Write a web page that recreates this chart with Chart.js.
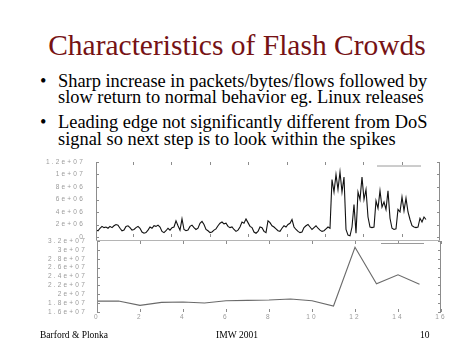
<!DOCTYPE html>
<html><head><meta charset="utf-8">
<script src="https://cdn.jsdelivr.net/npm/chart.js@4"></script>
<style>
html,body{margin:0;padding:0;background:#fff;width:474px;height:355px;overflow:hidden;font-family:"Liberation Serif","Times New Roman",serif;}
#title{position:absolute;left:0;width:474px;top:30px;text-align:center;font-size:29.5px;line-height:30px;color:#761214;white-space:nowrap;}
.ln{position:absolute;left:58px;font-size:18.4px;line-height:16.5px;color:#000;white-space:nowrap;}
.dot{position:absolute;left:40px;font-size:18.4px;line-height:16.5px;color:#000;}
.ft{position:absolute;top:330.5px;font-size:9.5px;line-height:9.5px;color:#000;white-space:nowrap;}
canvas{position:absolute;left:0;}
</style></head>
<body>
<div id="title">Characteristics of Flash Crowds</div>
<div class="dot" style="top:72.5px">•</div>
<div class="ln" style="top:72.5px">Sharp increase in packets/bytes/flows followed by</div>
<div class="ln" style="top:88.5px">slow return to normal behavior eg. Linux releases</div>
<div class="dot" style="top:113.5px">•</div>
<div class="ln" style="top:113.5px">Leading edge not significantly different from DoS</div>
<div class="ln" style="top:130.5px">signal so next step is to look within the spikes</div>
<div style="position:absolute;left:0;top:158px;width:474px;height:84px"><canvas id="c1" width="474" height="84"></canvas></div>
<div style="position:absolute;left:0;top:238px;width:474px;height:87px"><canvas id="c2" width="474" height="87"></canvas></div>
<div class="ft" style="left:40px">Barford &amp; Plonka</div>
<div class="ft" style="left:0;width:474px;text-align:center">IMW 2001</div>
<div class="ft" style="left:420px">10</div>
<script>
// ---- data (values in millions) ----
const topSeries = [
 1.12,1,1.4,1.7,1.5,1.6,1.4,1.7,1.5,1.8, 2,1.9,1.4,1,1.1,1.7,1.8,1.5,1.1,1.2,
 1.5,1.7,1.4,0.8,0.6,0.7,1.1,1.6,1.4,1.8, 1.7,1.9,1.6,0.9,0.7,1,1.4,1.1,1.5,1.6,
 2.6,1.8,1.1,2.9,
 1.2,1,1.1,1.7,1.9,1.5,1.2,1.4,2.2,2.5, 2,1.2,1,0.7,0.8,1.1,1.3,1.8,2.2,2.4,
 2.1,2.2,1.7,1.5,1.6,1.2,0.9,1.1,1.6,2.4, 2.2,2.9,2.3,1.7,1.5,0.8,0.6,0.9,1.6,1.5,
 0.9,0.7,
 2.6,2.3,1.8,1.6,1.3,1,0.9,1.4,1.8,1.6, 2,2.2,2.8,1.6,1.2,0.9,0.7,0.8,1.5,1.8,
 2,1.6,1.2,1.5,1.8,1.4,1.1,0.9,1,1.3, 1.6,1.4,9.2,7.2,10,7.6,10.4,7.2,9.6,1.2,
 0.3,0.2,1.6,
 5.2,0.6,7.2,6,9.6,6,7.6,3.2,1.6,1.5, 1.6,5.8,4.6,7.4,4.8,5.6,4.4,7.4,3,1.4,
 1.2,1.3,4.4,4,6.4,4.2,6.2,4,2.8,1.8, 1.6,1.5,1.6,3,2.4,3.2,2.8
];
const topXMax = 172;
const topYTicks = [0,2,4,6,8,10,12];
const topXTicks = [18.5,37.7,56.9,76.1,95.3,114.5,133.7,152.9];

const bottomX = [0,1,2,3,4,5,6,7,8,9,10,11,12,13,14,15];
const bottomSeries = [18.46,18.46,17.5,18.16,18.24,18.02,18.54,18.62,18.7,18.92,18.54,17.34,30.58,22.36,24.38,22.28];
const bottomYTicks = [16,18,20,22,24,26,28,30,32];
const bottomXTicks = [0,2,4,6,8,10,12,14,16];

function fmtE(v){
  if(v===0) return '0';
  const s = Number((v*1e6).toPrecision(6)).toExponential();
  const [m,e] = s.split('e');
  return m + 'e' + e[0] + e.slice(1).padStart(2,'0');
}

const frame = {
  id:'frame',
  beforeDraw(chart){ chart.ctx.letterSpacing = '2.2px'; },
  afterDatasetsDraw(chart, args, o){
    const {ctx, chartArea:a, scales:{x,y}} = chart;
    ctx.save();
    ctx.letterSpacing='0px';
    ctx.strokeStyle = '#8c8c8c'; ctx.lineWidth = 1;
    ctx.beginPath();
    ctx.moveTo(a.left+0.5,a.top); ctx.lineTo(a.left+0.5,a.bottom+(o.ext||0));
    ctx.moveTo(a.right-0.5,a.top); ctx.lineTo(a.right-0.5,a.bottom+(o.ext||0));
    const L = 3;
    y.ticks.forEach(t=>{const py=Math.round(y.getPixelForValue(t.value))+0.5;
      ctx.moveTo(a.left,py);ctx.lineTo(a.left+L,py);ctx.moveTo(a.right,py);ctx.lineTo(a.right-L,py);});
    x.ticks.forEach(t=>{const px=Math.round(x.getPixelForValue(t.value))+0.5;
      ctx.moveTo(px,a.top);ctx.lineTo(px,a.top+L);ctx.moveTo(px,a.bottom);ctx.lineTo(px,a.bottom-L);});
    ctx.stroke();
    if(o.bottomLine){ctx.beginPath();ctx.strokeStyle='#b4b4b4';ctx.moveTo(a.left,a.bottom+o.bottomLine+0.5);ctx.lineTo(a.right,a.bottom+o.bottomLine+0.5);ctx.stroke();}
    ctx.beginPath(); ctx.strokeStyle='#9a9a9a';
    ctx.moveTo(a.right-o.keyL, a.top+o.keyY); ctx.lineTo(a.right-o.keyR, a.top+o.keyY);
    ctx.stroke();
    ctx.restore();
  },
  afterDraw(chart){ chart.ctx.letterSpacing='0px'; }
};

const tickFont = {family:'"Liberation Sans", Arial, sans-serif', size:6.5};
const tickColor = '#9a9a9a';

new Chart(document.getElementById('c1'), {
  type:'line',
  data:{datasets:[{data: topSeries.map((v,i)=>({x:i,y:v})), borderColor:'#111', borderWidth:1.1, pointRadius:0, pointHoverRadius:0, tension:0}]},
  options:{
    responsive:false, animation:false, events:[],
    layout:{autoPadding:false, padding:{left:0,right:34,top:4,bottom:0}},
    plugins:{legend:{display:false},tooltip:{enabled:false},
      frame:{keyL:63,keyR:19,keyY:4,bottomLine:3,ext:3}},
    scales:{
      x:{type:'linear',min:0,max:topXMax,
        afterBuildTicks:s=>{s.ticks=topXTicks.map(v=>({value:v}));},
        afterFit:s=>{s.height=5;s.paddingLeft=0;s.paddingRight=0;},
        ticks:{display:false}, grid:{display:false,drawTicks:false}, border:{display:false}},
      y:{min:0,max:12,
        afterBuildTicks:s=>{s.ticks=topYTicks.map(v=>({value:v}));},
        afterFit:s=>{s.width=96;s.paddingTop=0;s.paddingBottom=0;},
        ticks:{callback:v=>fmtE(v),font:tickFont,color:tickColor,padding:11,autoSkip:false},
        grid:{display:false,drawTicks:false}, border:{display:false}}
    }
  },
  plugins:[frame]
});

new Chart(document.getElementById('c2'), {
  type:'line',
  data:{datasets:[{data: bottomX.map((x,i)=>({x,y:bottomSeries[i]})), borderColor:'#6a6a6a', borderWidth:1.1, pointRadius:0, pointHoverRadius:0, tension:0}]},
  options:{
    responsive:false, animation:false, events:[],
    layout:{autoPadding:false, padding:{left:0,right:33,top:3,bottom:0}},
    plugins:{legend:{display:false},tooltip:{enabled:false},
      frame:{keyL:60,keyR:17,keyY:2.5}},
    scales:{
      x:{type:'linear',min:0,max:16,
        afterBuildTicks:s=>{s.ticks=bottomXTicks.map(v=>({value:v}));},
        afterFit:s=>{s.height=13;s.paddingLeft=0;s.paddingRight=0;},
        ticks:{callback:v=>String(v),font:tickFont,color:tickColor,padding:1,maxRotation:0,autoSkip:false},
        grid:{display:false,drawTicks:false}, border:{display:false}},
      y:{min:16,max:32,
        afterBuildTicks:s=>{s.ticks=bottomYTicks.map(v=>({value:v}));},
        afterFit:s=>{s.width=97;s.paddingTop=0;s.paddingBottom=0;},
        ticks:{callback:v=>fmtE(v),font:tickFont,color:tickColor,padding:10,autoSkip:false},
        grid:{display:false,drawTicks:false}, border:{display:false}}
    }
  },
  plugins:[frame]
});
</script>
</body></html>
